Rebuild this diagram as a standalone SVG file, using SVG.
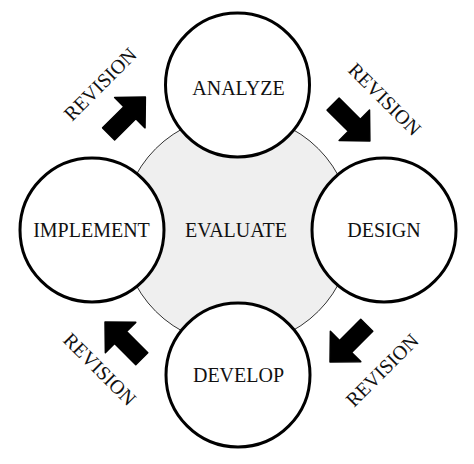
<svg xmlns="http://www.w3.org/2000/svg" width="474" height="464" viewBox="0 0 474 464">
<defs>
<style>
.node{fill:#fff;stroke:#000;stroke-width:3}
.lbl{font-family:"Liberation Serif","Times New Roman",serif;font-size:20px;fill:#111;text-anchor:middle}
.arrow{fill:#000}
</style>
<polygon id="arr" points="-26,-8.5 4,-8.5 4,-21.5 26,0 4,21.5 4,8.5 -26,8.5" stroke="#000" stroke-width="1.5" stroke-linejoin="round"/>
</defs>
<rect width="474" height="464" fill="#fff"/>
<g id="evaluate">
<circle cx="237" cy="230" r="115" fill="#efefef" stroke="#333" stroke-width="1"/>
<text class="lbl" x="236" y="237">EVALUATE</text>
</g>
<g id="analyze">
<circle class="node" cx="237.5" cy="85" r="72"/>
<text class="lbl" x="238.5" y="95">ANALYZE</text>
</g>
<g id="implement">
<circle class="node" cx="92" cy="230" r="72"/>
<text class="lbl" x="91.5" y="237">IMPLEMENT</text>
</g>
<g id="design">
<circle class="node" cx="384" cy="230" r="72"/>
<text class="lbl" x="384" y="237">DESIGN</text>
</g>
<g id="develop">
<circle class="node" cx="238" cy="375" r="72"/>
<text class="lbl" x="238.5" y="382">DEVELOP</text>
</g>
<g id="connectors" class="arrow">
<use href="#arr" transform="translate(127,115.5) rotate(-45)"/>
<use href="#arr" transform="translate(351.5,122.5) rotate(45)"/>
<use href="#arr" transform="translate(348.4,343.6) rotate(135)"/>
<use href="#arr" transform="translate(123.4,340.4) rotate(-135)"/>
<text class="lbl" transform="translate(105,89) rotate(-45)">REVISION</text>
<text class="lbl" transform="translate(380,104) rotate(45)">REVISION</text>
<text class="lbl" transform="translate(387,375) rotate(-45)">REVISION</text>
<text class="lbl" transform="translate(95,374) rotate(45)">REVISION</text>
</g>
</svg>
